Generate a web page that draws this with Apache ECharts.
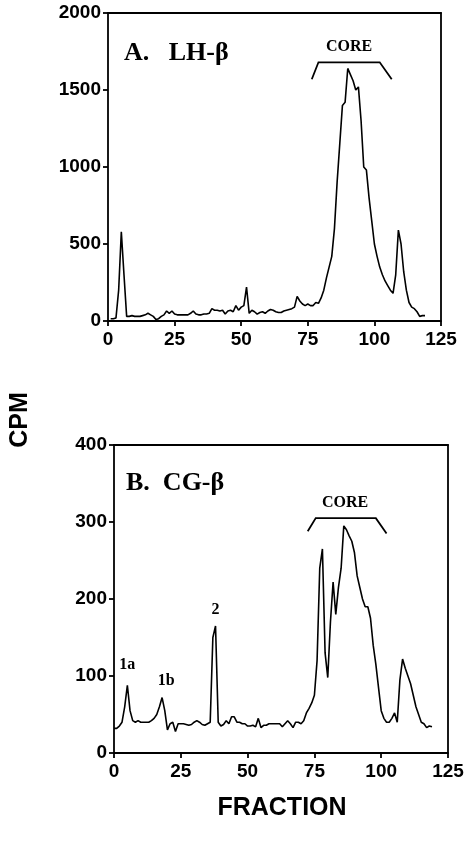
<!DOCTYPE html><html><head><meta charset="utf-8"><script src="https://cdn.jsdelivr.net/npm/echarts@6/dist/echarts.min.js"></script>
<style>html,body{margin:0;background:#fff}#c{width:474px;height:843px}</style></head><body><div id="c"></div><script>
const fractionsA=[1,2,3,4,5,6,7,8,9,10,11,12,13,14,15,16,17,18,19,20,21,22,23,24,25,26,27,28,29,30,31,32,33,34,35,36,37,38,39,40,41,42,43,44,45,46,47,48,49,50,51,52,53,54,55,56,57,58,59,60,61,62,63,64,65,66,67,68,69,70,71,72,73,74,75,76,77,78,79,80,81,82,83,84,85,86,87,88,89,90,91,92,93,94,95,96,97,98,99,100,101,102,103,104,105,106,107,108,109,110,111,112,113,114,115,116,117,118,119];
const cpmA=[15,15,20,200,580,300,30,30,35,30,30,30,35,40,50,40,30,10,15,30,40,65,50,65,45,40,40,40,40,40,50,65,45,40,40,45,45,50,80,70,70,65,70,45,65,70,60,100,70,90,100,220,50,70,60,45,55,60,50,65,75,70,60,55,55,65,70,75,80,90,160,130,110,100,110,100,100,120,115,150,200,280,350,420,600,900,1150,1400,1420,1640,1600,1560,1500,1520,1300,1000,980,800,650,500,420,350,300,260,230,200,180,300,590,500,320,200,120,90,80,60,30,35,35];
const fractionsB=[0,1,2,3,4,5,6,7,8,9,10,11,12,13,14,15,16,17,18,19,20,21,22,23,24,25,26,27,28,29,30,31,32,33,34,35,36,37,38,39,40,41,42,43,44,45,46,47,48,49,50,51,52,53,54,55,56,57,58,59,60,61,62,63,64,65,66,67,68,69,70,71,72,73,74,75,76,77,78,79,80,81,82,83,84,85,86,87,88,89,90,91,92,93,94,95,96,97,98,99,100,101,102,103,104,105,106,107,108,109,110,111,112,113,114,115,116,117,118,119];
const cpmB=[32,32,35,40,60,88,55,42,40,42,40,40,40,40,42,45,50,60,72,55,30,38,40,28,38,38,38,37,36,37,40,42,40,37,36,38,40,150,165,40,35,37,42,38,47,47,40,40,38,38,35,35,36,34,45,33,36,36,38,38,38,38,38,34,38,42,38,33,40,40,38,42,52,58,65,75,120,240,265,130,98,170,222,180,215,240,295,290,282,275,260,230,215,200,190,190,175,140,115,85,55,45,40,40,45,52,40,95,122,110,100,90,75,60,50,40,38,33,35,34];
const axisFont={fontFamily:'Liberation Sans',fontWeight:'bold',fontSize:19,color:'#000',formatter:v=>String(v)};
const serif={fontFamily:'Liberation Serif',fontWeight:'bold',fill:'#000'};
const ln={lineStyle:{color:'#000',width:1.8}};
function xa(gi,show,pos){return {type:'value',gridIndex:gi,min:0,max:125,interval:25,position:pos,axisLine:{show:true,onZero:false,...ln},axisTick:{show:show,inside:false,length:5,...ln},axisLabel:{show:show,...axisFont,margin:9},splitLine:{show:false}};}
function ya(gi,max,show,pos){return {type:'value',gridIndex:gi,min:0,max:max,interval:max/4,position:pos,axisLine:{show:true,onZero:false,...ln},axisTick:{show:show,length:5,...ln},axisLabel:{show:show,...axisFont,margin:7},splitLine:{show:false}};}
const chart=echarts.init(document.getElementById('c'));
chart.setOption({animation:false,
grid:[{left:108,top:13,width:333,height:308},{left:114,top:445,width:334,height:308}],
xAxis:[xa(0,true,'bottom'),xa(0,false,'top'),xa(1,true,'bottom'),xa(1,false,'top')],
yAxis:[ya(0,2000,true,'left'),ya(0,2000,false,'right'),ya(1,400,true,'left'),ya(1,400,false,'right')],
series:[{type:'line',xAxisIndex:0,yAxisIndex:0,showSymbol:false,data:fractionsA.map((f,i)=>[f,cpmA[i]]),lineStyle:{color:'#000',width:1.6}},
{type:'line',xAxisIndex:2,yAxisIndex:2,showSymbol:false,data:fractionsB.map((f,i)=>[f,cpmB[i]]),lineStyle:{color:'#000',width:1.6}}]});
function P(g,x,y){return chart.convertToPixel({xAxisIndex:g*2,yAxisIndex:g*2},[x,y]);}
function txt(g,x,y,t,size,align){const p=P(g,x,y);return {type:'text',x:p[0],y:p[1],style:{text:t,fontSize:size,textAlign:align||'center',textVerticalAlign:'middle',...serif}};}
function br(g,pts){return {type:'polyline',shape:{points:pts.map(q=>P(g,q[0],q[1]))},style:{stroke:'#000',lineWidth:1.8,fill:null}};}
chart.setOption({graphic:[
txt(0,6,1740,'A.   LH-β',26,'left'),txt(0,90.5,1780,'CORE',16),br(0,[[76.5,1570],[79,1680],[102,1680],[106.5,1570]]),
txt(1,4.5,350,'B.  CG-β',26,'left'),txt(1,86.5,325,'CORE',16),br(1,[[72.5,288],[75.5,305],[98,305],[102,285]]),
txt(1,5,114,'1a',16),txt(1,19.5,94,'1b',16),txt(1,38,186,'2',16),
{type:'text',x:20,y:420,rotation:Math.PI/2,style:{text:'CPM',fontSize:25,fontFamily:'Liberation Sans',fontWeight:'bold',fill:'#000',textAlign:'center',textVerticalAlign:'middle'}},
{type:'text',x:282,y:808,style:{text:'FRACTION',fontSize:25,fontFamily:'Liberation Sans',fontWeight:'bold',fill:'#000',textAlign:'center',textVerticalAlign:'middle'}}
]});
</script></body></html>
